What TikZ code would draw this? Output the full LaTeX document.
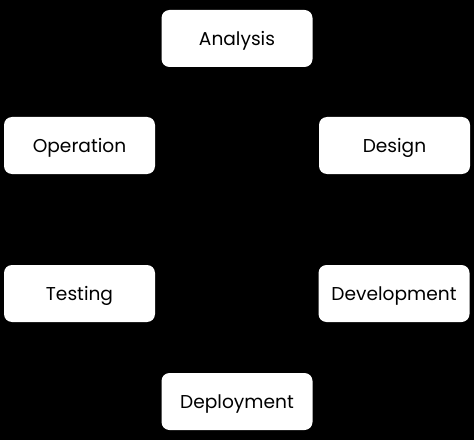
\documentclass[tikz,border=0pt]{standalone}
\usepackage{fontspec}
\setmainfont{Poppins}
\begin{document}
\begin{tikzpicture}[x=1pt,y=1pt,
  box/.style={draw=none,fill=white,rounded corners=8pt,minimum width=151pt,minimum height=57pt,inner sep=0pt,text height=14.5pt,text depth=0pt,font=\fontsize{18.6}{22}\selectfont,text=black}]
\fill[black] (0,0) rectangle (474,440);
\useasboundingbox (0,0) rectangle (474,440);
\node[box] (analysis) at (237,401.5) {Analysis};
\node[box] (operation) at (79.5,294.5) {Operation};
\node[box] (design) at (394.5,294.5) {Design};
\node[box] (testing) at (79.5,146.5) {Testing};
\node[box] (development) at (394,146.5) {Development};
\node[box] (deployment) at (237,38.5) {Deployment};
\end{tikzpicture}
\end{document}
